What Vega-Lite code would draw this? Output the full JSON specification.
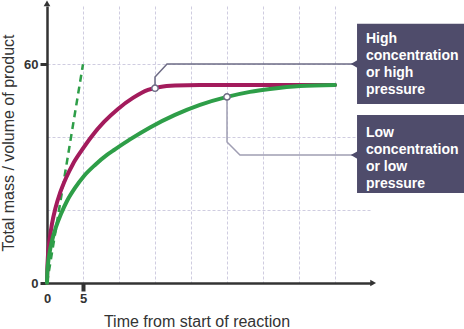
{
  "$schema": "https://vega.github.io/schema/vega-lite/v6.json",
  "width": 324,
  "height": 277,
  "autosize": {"type": "none"},
  "padding": {"left": 47, "top": 6, "right": 93, "bottom": 46},
  "background": "white",
  "config": {"view": {"stroke": null}, "font": "Liberation Sans"},
  "datasets": {
    "magenta": [{"t":0,"v":0},{"t":0.04,"v":3.57},{"t":0.14,"v":7.69},{"t":0.35,"v":11.8},{"t":0.69,"v":16.2},{"t":1.18,"v":20.59},{"t":1.81,"v":24.7},{"t":2.64,"v":28.82},{"t":3.61,"v":32.67},{"t":4.86,"v":36.5},{"t":6.25,"v":40.35},{"t":7.92,"v":44.19},{"t":9.86,"v":47.76},{"t":11.94,"v":50.78},{"t":14.03,"v":52.98},{"t":15.69,"v":53.8},{"t":17.78,"v":54.2},{"t":21.25,"v":54.35},{"t":40,"v":54.35}],
    "green": [{"t":0,"v":0},{"t":0.04,"v":2.74},{"t":0.14,"v":5.22},{"t":0.35,"v":8.23},{"t":0.69,"v":11.53},{"t":1.25,"v":15.37},{"t":1.94,"v":18.94},{"t":2.78,"v":22.51},{"t":3.89,"v":26.08},{"t":5.14,"v":29.37},{"t":6.67,"v":32.39},{"t":8.33,"v":35.14},{"t":9.44,"v":36.65},{"t":11.53,"v":39.39},{"t":14.31,"v":42.68},{"t":17.78,"v":46.12},{"t":21.25,"v":48.86},{"t":25,"v":51.06},{"t":28.19,"v":52.43},{"t":30.97,"v":53.25},{"t":35.14,"v":54.08},{"t":40,"v":54.35}],
    "tangent": [{"t":0,"v":0},{"t":5,"v":60}],
    "markers": [{"t":15,"v":53.45},{"t":25,"v":51.06}],
    "connA": [{"i":0,"t":15,"v":53.45},{"i":1,"t":15,"v":56.5},{"i":2,"t":16.67,"v":60.1},{"i":3,"t":42.5,"v":60.1}],
    "connB": [{"i":0,"t":25,"v":51.06},{"i":1,"t":25,"v":38.7},{"i":2,"t":26.8,"v":35.1},{"i":3,"t":42.5,"v":35.1}],
    "boxes": [
      {"x1":43.06,"x2":58,"y1":71.1,"y2":49.1,"px":42.7,"py":60.1,"tx":44.3,"ty":65.9,"label":"High\nconcentration\nor high\npressure"},
      {"x1":43.06,"x2":58,"y1":46.1,"y2":24.7,"px":42.7,"py":35.1,"tx":44.3,"ty":40.1,"label":"Low\nconcentration\nor low\npressure"}
    ],
    "arrowY": [{"t":0,"v":76.7}],
    "arrowX": [{"t":45.3,"v":0}]
  },
  "layer": [
    {
      "data": {"name": "tangent"},
      "mark": {"type": "line", "color": "#2e9e48", "strokeWidth": 2.5, "strokeDash": [7, 5]},
      "encoding": {
        "x": {"field": "t", "type": "quantitative",
          "scale": {"domain": [0, 45], "nice": false, "zero": false},
          "axis": {
            "values": [0, 5, 10, 15, 20, 25, 30, 35, 40],
            "title": "Time from start of reaction",
            "titleFont": "Liberation Sans", "titleFontSize": 16, "titleFontWeight": "normal", "titleColor": "#333333",
            "titleX": 149.5, "titleY": 43, "titleBaseline": "alphabetic", "titleAlign": "center",
            "labelExpr": "datum.value == 0 || datum.value == 5 ? datum.label : ''",
            "labelFont": "Liberation Sans", "labelFontSize": 13, "labelFontWeight": "bold", "labelColor": "#333333",
            "labelFlush": false, "labelOverlap": false, "labelPadding": 1,
            "tickSize": 8, "tickWidth": 4,
            "tickColor": {"condition": {"test": "datum.value == 5", "value": "#333333"}, "value": "transparent"},
            "domainColor": "#333333", "domainWidth": 2.5,
            "grid": true, "gridDash": [3, 2], "gridWidth": 1,
            "gridColor": {"condition": {"test": "datum.value == 0", "value": "transparent"}, "value": "#cfcce0"}
          }
        },
        "y": {"field": "v", "type": "quantitative",
          "scale": {"domain": [0, 76], "nice": false, "zero": false},
          "axis": {
            "values": [0, 10, 20, 30, 40, 50, 60, 70],
            "title": "Total mass / volume of product",
            "titleFont": "Liberation Sans", "titleFontSize": 16, "titleFontWeight": "normal", "titleColor": "#333333",
            "titleX": -33.5, "titleY": 136.5, "titleBaseline": "alphabetic", "titleAlign": "center", "titleAngle": -90,
            "labelExpr": "datum.value == 0 || datum.value == 60 ? datum.label : ''",
            "labelFont": "Liberation Sans", "labelFontSize": 13, "labelFontWeight": "bold", "labelColor": "#333333",
            "labelFlush": false, "labelOverlap": false, "labelPadding": 2,
            "tickSize": 7, "tickWidth": 3,
            "tickColor": {"condition": {"test": "datum.value == 0 || datum.value == 60", "value": "#333333"}, "value": "transparent"},
            "domainColor": "#333333", "domainWidth": 2.5,
            "grid": true, "gridDash": [3, 2], "gridWidth": 1,
            "gridColor": {"condition": {"test": "datum.value == 0", "value": "transparent"}, "value": "#cfcce0"}
          }
        }
      }
    },
    {
      "data": {"name": "magenta"},
      "mark": {"type": "line", "color": "#a31b5c", "strokeWidth": 4, "interpolate": "monotone", "strokeCap": "round"},
      "encoding": {"x": {"field": "t", "type": "quantitative"}, "y": {"field": "v", "type": "quantitative"}}
    },
    {
      "data": {"name": "green"},
      "mark": {"type": "line", "color": "#2e9e48", "strokeWidth": 4, "interpolate": "monotone", "strokeCap": "round"},
      "encoding": {"x": {"field": "t", "type": "quantitative"}, "y": {"field": "v", "type": "quantitative"}}
    },
    {
      "data": {"name": "connA"},
      "mark": {"type": "line", "color": "#6e6c85", "strokeWidth": 1.5},
      "encoding": {"x": {"field": "t", "type": "quantitative"}, "y": {"field": "v", "type": "quantitative"}, "order": {"field": "i"}}
    },
    {
      "data": {"name": "connB"},
      "mark": {"type": "line", "color": "#a09eb3", "strokeWidth": 1.5},
      "encoding": {"x": {"field": "t", "type": "quantitative"}, "y": {"field": "v", "type": "quantitative"}, "order": {"field": "i"}}
    },
    {
      "data": {"name": "markers"},
      "mark": {"type": "point", "shape": "circle", "filled": true, "fill": "white", "stroke": "#6e6c85", "strokeWidth": 1.5, "size": 40, "opacity": 1},
      "encoding": {"x": {"field": "t", "type": "quantitative"}, "y": {"field": "v", "type": "quantitative"}}
    },
    {
      "data": {"name": "boxes"},
      "mark": {"type": "rect", "color": "#4f4c6b"},
      "encoding": {
        "x": {"field": "x1", "type": "quantitative"}, "x2": {"field": "x2"},
        "y": {"field": "y1", "type": "quantitative"}, "y2": {"field": "y2"}
      }
    },
    {
      "data": {"name": "boxes"},
      "mark": {"type": "point", "shape": "triangle-left", "filled": true, "color": "#4f4c6b", "size": 70, "opacity": 1},
      "encoding": {"x": {"field": "px", "type": "quantitative"}, "y": {"field": "py", "type": "quantitative"}}
    },
    {
      "data": {"name": "boxes"},
      "mark": {"type": "text", "align": "left", "baseline": "alphabetic", "lineBreak": "\n", "lineHeight": 17, "font": "Liberation Sans", "fontSize": 14, "fontWeight": "bold", "color": "white"},
      "encoding": {"x": {"field": "tx", "type": "quantitative"}, "y": {"field": "ty", "type": "quantitative"}, "text": {"field": "label"}}
    },
    {
      "data": {"name": "arrowY"},
      "mark": {"type": "point", "shape": "triangle-up", "filled": true, "color": "#333333", "size": 45, "opacity": 1},
      "encoding": {"x": {"field": "t", "type": "quantitative"}, "y": {"field": "v", "type": "quantitative"}}
    },
    {
      "data": {"name": "arrowX"},
      "mark": {"type": "point", "shape": "triangle-right", "filled": true, "color": "#333333", "size": 45, "opacity": 1},
      "encoding": {"x": {"field": "t", "type": "quantitative"}, "y": {"field": "v", "type": "quantitative"}}
    }
  ]
}
